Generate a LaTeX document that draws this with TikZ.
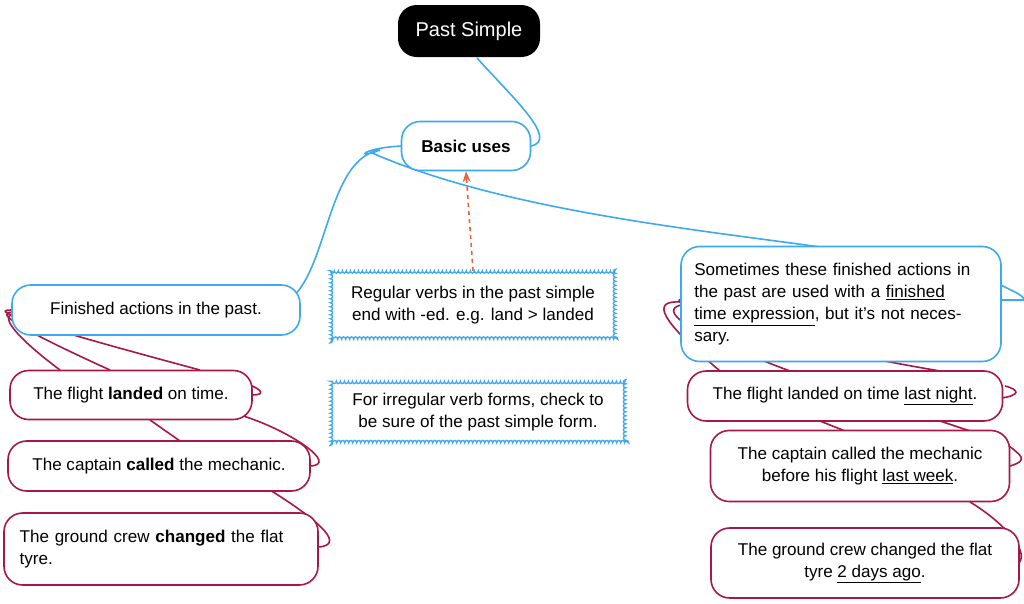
\documentclass[tikz,border=0pt]{standalone}
\usepackage{fontspec}
\setmainfont{Liberation Sans}
\usetikzlibrary{decorations.pathmorphing,arrows.meta}
\definecolor{bl}{HTML}{3DA9F0}
\definecolor{cr}{HTML}{A8174A}
\definecolor{org}{HTML}{E8643C}
\tikzset{
 x=0.75pt,y=-0.75pt,
 bbox/.style={draw=bl,line width=1.2pt,rounded corners=14pt,fill=white,font=\fontsize{12.8}{16.5}\selectfont,align=left,inner sep=0pt},
 cbox/.style={draw=cr,line width=1.2pt,rounded corners=14pt,fill=white,font=\fontsize{12.8}{16.5}\selectfont,inner sep=0pt},
 blc/.style={draw=bl,line width=1.2pt},
 crc/.style={draw=cr,line width=1.2pt},
 cloud/.style={draw=bl,line width=1pt,decorate,decoration={bumps,segment length=6pt,amplitude=1.8pt}},
}
\newcommand{\ul}[1]{\underline{#1}}
\begin{document}
\begin{tikzpicture}
\useasboundingbox (0,0) rectangle (1024,603);
% connectors (behind)
\draw[blc] (477,58) .. controls (510,95) and (560,140) .. (531,146);
\draw[blc] (402,146) .. controls (360,148) and (355,160) .. (380,150) .. controls (320,160) and (330,300) .. (272,307);
\draw[blc] (370,152) .. controls (500,210) and (700,230) .. (820,247);
\draw[blc] (1001,285) .. controls (1010,290) and (1024,295) .. (1024,300);
\draw[blc] (1001,300) -- (1024,300);
% left crimson
\draw[crc] (12,310) .. controls (-5,310) and (-5,315) .. (200,370);
\draw[crc] (12,312) .. controls (0,313) and (0,320) .. (110,370);
\draw[crc] (12,314) .. controls (0,318) and (20,340) .. (60,370);
\draw[crc] (242,382) .. controls (265,390) and (265,395) .. (252,395);
\draw[crc] (150,420) -- (180,441);
\draw[crc] (240,415) .. controls (290,430) and (340,465) .. (310,466);
\draw[crc] (270,490) .. controls (310,515) and (350,545) .. (318,547);
% right crimson
\draw[crc] (681,302) .. controls (650,300) and (660,320) .. (720,371);
\draw[crc] (681,305) .. controls (660,310) and (680,330) .. (790,371);
\draw[crc] (681,300) .. controls (670,298) and (700,330) .. (940,371);
\draw[crc] (1002,398) .. controls (1020,395) and (1020,390) .. (1005,386);
\draw[crc] (820,421) -- (845,431);
\draw[crc] (940,421) -- (970,431);
\draw[crc] (1008,445) .. controls (1020,455) and (1030,460) .. (1010,466);
\draw[crc] (970,502) .. controls (1000,520) and (1030,550) .. (1019,563);
% nodes
\node[fill=black,text=white,rounded corners=14pt,minimum width=142*0.75pt,minimum height=52*0.75pt,font=\fontsize{15}{18}\selectfont,inner sep=0pt] (ps) at (469,31) {Past Simple};
\node[bbox,minimum width=129*0.75pt,minimum height=49*0.75pt,align=center,font=\fontsize{12.8}{16}\selectfont\bfseries] (bu) at (466,146) {Basic uses};
\node[bbox,minimum width=288*0.75pt,minimum height=50*0.75pt,align=center] (fa) at (156,310) {Finished actions in the past.};
\node[bbox,minimum width=320*0.75pt,minimum height=115*0.75pt,text width=220pt] (st) at (841,304) {Sometimes these finished actions in the past are used with a \ul{finished}\\\ul{time expression}, but it’s not necessary.};
\node[cbox,minimum width=242*0.75pt,minimum height=49*0.75pt] (l1) at (131,395) {The flight \textbf{landed} on time.};
\node[cbox,minimum width=302*0.75pt,minimum height=50*0.75pt] (l2) at (159,466) {The captain \textbf{called} the mechanic.};
\node[cbox,minimum width=314*0.75pt,minimum height=72*0.75pt,align=left,text width=212pt] (l3) at (161,549) {The ground crew \textbf{changed} the flat tyre.};
\node[cbox,minimum width=315*0.75pt,minimum height=50*0.75pt] (r1) at (845,396) {The flight landed on time \ul{last night}.};
\node[cbox,minimum width=299*0.75pt,minimum height=71*0.75pt,align=center] (r2) at (860,466) {The captain called the mechanic\\before his flight \ul{last week}.};
\node[cbox,minimum width=308*0.75pt,minimum height=70*0.75pt,align=center] (r3) at (865,563) {The ground crew changed the flat\\tyre \ul{2 days ago}.};
% clouds
\node[minimum width=293*0.75pt,minimum height=68*0.75pt,align=center,font=\fontsize{12.8}{16.5}\selectfont] (rv) at (473,305) {Regular verbs in the past simple\\end with -ed. e.g. land > landed};
\draw[cloud] ([xshift=3pt]rv.north west) rectangle ([xshift=-3pt]rv.south east);
\node[minimum width=303*0.75pt,minimum height=61*0.75pt,align=center,font=\fontsize{12.8}{16.5}\selectfont] (iv) at (478,412) {For irregular verb forms, check to\\be sure of the past simple form.};
\draw[cloud] ([xshift=3pt]iv.north west) rectangle ([xshift=-3pt]iv.south east);
\draw[org,line width=1.2pt,dashed,-{Stealth[length=8pt]}] (rv.north) -- (bu.south);
\end{tikzpicture}
\end{document}
